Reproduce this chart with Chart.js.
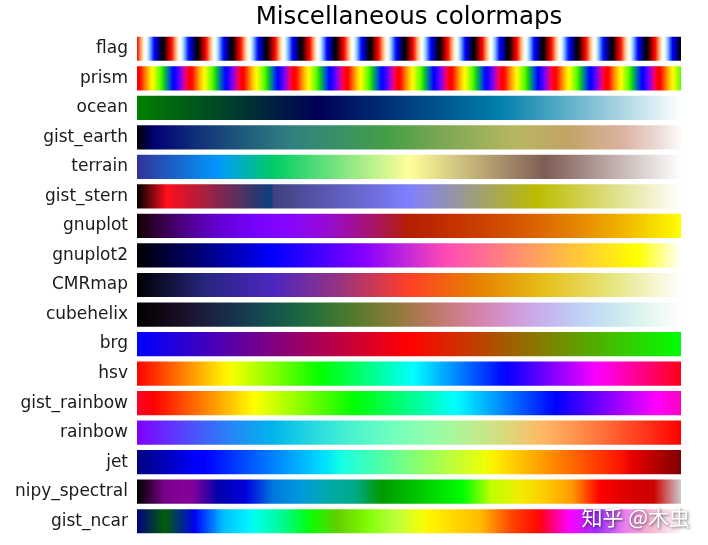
<!DOCTYPE html>
<html>
<head>
<meta charset="utf-8">
<script src="https://cdn.jsdelivr.net/npm/chart.js@4.4.0/dist/chart.umd.min.js"></script>
<style>
  html, body { margin: 0; padding: 0; background: #fff; }
</style>
</head>
<body>
<canvas id="cmapChart" width="708" height="545"></canvas>
<script>
// Colormap names, top to bottom
var cmapNames = ["flag", "prism", "ocean", "gist_earth", "terrain", "gist_stern",
    "gnuplot", "gnuplot2", "CMRmap", "cubehelix", "brg", "hsv", "gist_rainbow",
    "rainbow", "jet", "nipy_spectral", "gist_ncar"];
// every bar runs over the whole 0..1 range of its colormap
var cmapSpan = [1, 1, 1, 1, 1, 1, 1, 1, 1, 1, 1, 1, 1, 1, 1, 1, 1];
var titleText = "Miscellaneous colormaps";
var watermarkText = "知乎 @木虫";

// ---- colormap definitions (matplotlib style) ----

// segmented channel: list of [x, yLeft, yRight]
function segCh(pts, x) {
    for (var k = 0; k < pts.length - 1; k++) {
        if (x <= pts[k + 1][0]) {
            var a = pts[k], b = pts[k + 1];
            var t = (b[0] - a[0]) > 0 ? (x - a[0]) / (b[0] - a[0]) : 0;
            return a[2] + t * (b[1] - a[2]);
        }
    }
    return pts[pts.length - 1][1];
}
function segmented(d) {
    return function (x) { return [segCh(d.r, x), segCh(d.g, x), segCh(d.b, x)]; };
}
// list of [pos, r, g, b]
function listed(stops) {
    var d = { r: [], g: [], b: [] };
    stops.forEach(function (s) {
        d.r.push([s[0], s[1], s[1]]);
        d.g.push([s[0], s[2], s[2]]);
        d.b.push([s[0], s[3], s[3]]);
    });
    return segmented(d);
}

var PI = Math.PI;
var cmaps = {
    flag: function (x) {
        return [0.75 * Math.sin((x * 31.5 + 0.25) * PI) + 0.5,
                Math.sin(x * 31.5 * PI),
                0.75 * Math.sin((x * 31.5 - 0.25) * PI) + 0.5];
    },
    prism: function (x) {
        return [0.75 * Math.sin((x * 20.9 + 0.25) * PI) + 0.67,
                0.75 * Math.sin((x * 20.9 - 0.25) * PI) + 0.33,
                -1.1 * Math.sin((x * 20.9) * PI)];
    },
    ocean: function (x) { return [3 * x - 2, Math.abs((3 * x - 1) / 2), x]; },
    gist_earth: listed([
        [0.000, 0.00, 0.00, 0.00], [0.030, 0.00, 0.00, 0.45], [0.110, 0.06, 0.19, 0.47],
        [0.210, 0.13, 0.38, 0.49], [0.282, 0.19, 0.50, 0.50], [0.370, 0.22, 0.57, 0.40],
        [0.460, 0.27, 0.62, 0.28], [0.550, 0.47, 0.65, 0.32], [0.698, 0.72, 0.72, 0.38],
        [0.790, 0.76, 0.64, 0.40], [0.894, 0.86, 0.70, 0.63], [0.960, 0.93, 0.86, 0.84],
        [1.000, 0.99, 0.99, 0.98]]),
    terrain: listed([
        [0.00, 0.2, 0.2, 0.6], [0.15, 0.0, 0.6, 1.0], [0.25, 0.0, 0.8, 0.4],
        [0.50, 1.0, 1.0, 0.6], [0.75, 0.5, 0.36, 0.33], [1.00, 1.0, 1.0, 1.0]]),
    gist_stern: segmented({
        r: [[0, 0, 0], [0.0547, 1, 1], [0.250, 0.027, 0.250], [1, 1, 1]],
        g: [[0, 0, 0], [1, 1, 1]],
        b: [[0, 0, 0], [0.5, 1, 1], [0.735, 0, 0], [1, 1, 1]]
    }),
    gnuplot: function (x) { return [Math.sqrt(x), x * x * x, Math.sin(2 * PI * x)]; },
    gnuplot2: function (x) {
        var b = x < 0.25 ? 4 * x : (x < 0.92 ? -2 * x + 1.84 : x / 0.08 - 11.5);
        return [x / 0.32 - 0.78125, 2 * x - 0.84, b];
    },
    CMRmap: listed([
        [0.000, 0.00, 0.00, 0.00], [0.125, 0.15, 0.15, 0.50], [0.250, 0.30, 0.15, 0.75],
        [0.375, 0.60, 0.20, 0.50], [0.500, 1.00, 0.25, 0.15], [0.625, 0.90, 0.50, 0.00],
        [0.750, 0.90, 0.75, 0.10], [0.875, 0.90, 0.90, 0.50], [1.000, 1.00, 1.00, 1.00]]),
    cubehelix: function (x) {
        var a = x * (1 - x) / 2;
        var phi = 2 * PI * (0.5 / 3 - 1.5 * x);
        var c = Math.cos(phi), s = Math.sin(phi);
        return [x + a * (-0.14861 * c + 1.78277 * s),
                x + a * (-0.29227 * c - 0.90649 * s),
                x + a * (1.97294 * c)];
    },
    brg: listed([[0, 0, 0, 1], [0.5, 1, 0, 0], [1, 0, 1, 0]]),
    hsv: segmented({
        r: [[0, 1, 1], [0.158730, 1, 1], [0.174603, 0.96875, 0.96875], [0.333333, 0.03125, 0.03125],
            [0.349206, 0, 0], [0.666667, 0, 0], [0.682540, 0.03125, 0.03125],
            [0.841270, 0.96875, 0.96875], [0.857143, 1, 1], [1, 1, 1]],
        g: [[0, 0, 0], [0.158730, 0.9375, 0.9375], [0.174603, 1, 1], [0.507937, 1, 1],
            [0.666667, 0.0625, 0.0625], [0.682540, 0, 0], [1, 0, 0]],
        b: [[0, 0, 0], [0.333333, 0, 0], [0.349206, 0.0625, 0.0625], [0.507937, 1, 1],
            [0.841270, 1, 1], [0.857143, 0.9375, 0.9375], [1, 0.09375, 0.09375]]
    }),
    gist_rainbow: listed([
        [0.000, 1.00, 0.00, 0.16], [0.030, 1.00, 0.00, 0.00], [0.215, 1.00, 1.00, 0.00],
        [0.400, 0.00, 1.00, 0.00], [0.586, 0.00, 1.00, 1.00], [0.770, 0.00, 0.00, 1.00],
        [0.954, 1.00, 0.00, 1.00], [1.000, 1.00, 0.00, 0.75]]),
    rainbow: function (x) {
        return [Math.abs(2 * x - 0.5), Math.sin(x * PI), Math.cos(x * PI / 2)];
    },
    jet: segmented({
        r: [[0, 0, 0], [0.35, 0, 0], [0.66, 1, 1], [0.89, 1, 1], [1, 0.5, 0.5]],
        g: [[0, 0, 0], [0.125, 0, 0], [0.375, 1, 1], [0.64, 1, 1], [0.91, 0, 0], [1, 0, 0]],
        b: [[0, 0.5, 0.5], [0.11, 1, 1], [0.34, 1, 1], [0.65, 0, 0], [1, 0, 0]]
    }),
    nipy_spectral: listed([
        [0.00, 0.0, 0.0, 0.0], [0.05, 0.4667, 0.0, 0.5333], [0.10, 0.5333, 0.0, 0.6],
        [0.15, 0.0, 0.0, 0.6667], [0.20, 0.0, 0.0, 0.8667], [0.25, 0.0, 0.4667, 0.8667],
        [0.30, 0.0, 0.6, 0.8667], [0.35, 0.0, 0.6667, 0.6667], [0.40, 0.0, 0.6667, 0.5333],
        [0.45, 0.0, 0.6, 0.0], [0.50, 0.0, 0.7333, 0.0], [0.55, 0.0, 0.8667, 0.0],
        [0.60, 0.0, 1.0, 0.0], [0.65, 0.7333, 1.0, 0.0], [0.70, 0.9333, 0.9333, 0.0],
        [0.75, 1.0, 0.8, 0.0], [0.80, 1.0, 0.6, 0.0], [0.85, 1.0, 0.0, 0.0],
        [0.90, 0.8667, 0.0, 0.0], [0.95, 0.8, 0.0, 0.0], [1.00, 0.8, 0.8, 0.8]]),
    gist_ncar: segmented({
        r: [[0, 0, 0], [0.3098, 0, 0], [0.3725, 0.3993, 0.3993], [0.4235, 0.5003, 0.5003],
            [0.5333, 1, 1], [0.7922, 1, 1], [0.8471, 0.6218, 0.6218], [0.898, 0.9235, 0.9235],
            [1, 0.9961, 0.9961]],
        g: [[0, 0, 0], [0.051, 0.3722, 0.3722], [0.1059, 0, 0], [0.1569, 0.7202, 0.7202],
            [0.1608, 0.7537, 0.7537], [0.1647, 0.7752, 0.7752], [0.2157, 1, 1],
            [0.2588, 0.9804, 0.9804], [0.2706, 0.9804, 0.9804], [0.3176, 1, 1],
            [0.3686, 0.8081, 0.8081], [0.4275, 1, 1], [0.5216, 1, 1], [0.6314, 0.7292, 0.7292],
            [0.6863, 0.2796, 0.2796], [0.7451, 0, 0], [0.7922, 0, 0], [0.8431, 0.1753, 0.1753],
            [0.898, 0.5, 0.5], [1, 0.9725, 0.9725]],
        b: [[0, 0.502, 0.502], [0.051, 0.0222, 0.0222], [0.1098, 1, 1], [0.2039, 1, 1],
            [0.2627, 0.6145, 0.6145], [0.3216, 0, 0], [0.4157, 0, 0], [0.4745, 0.2342, 0.2342],
            [0.5333, 0, 0], [0.7373, 0, 0], [0.7922, 0.9738, 0.9738], [0.8, 1, 1],
            [0.8431, 1, 1], [0.898, 0.9341, 0.9341], [0.9412, 0.8, 0.8], [1, 0.9961, 0.9961]]
    })
};

function clip(v) { return Math.round(Math.max(0, Math.min(1, v)) * 255); }

var gradCache = {};
function cmapGradient(ctx, area, name) {
    var key = name + ":" + area.left + ":" + area.right;
    if (gradCache[key]) return gradCache[key];
    var fn = cmaps[name];
    var g = ctx.createLinearGradient(area.left, 0, area.right, 0);
    var N = 256;
    for (var i = 0; i < N; i++) {
        var x = i / (N - 1);
        var c = fn(x);
        g.addColorStop(x, "rgb(" + clip(c[0]) + "," + clip(c[1]) + "," + clip(c[2]) + ")");
    }
    gradCache[key] = g;
    return g;
}

// title centred over the bars, watermark in the lower right corner
var textPlugin = {
    id: "texts",
    afterDraw: function (chart) {
        var c = chart.ctx, area = chart.chartArea;
        c.save();
        c.font = '24.5px "DejaVu Sans"';
        c.fillStyle = "#000";
        c.textAlign = "center";
        c.textBaseline = "middle";
        c.fillText(titleText, (area.left + area.right) / 2, 18);

        c.font = '21px "Noto Sans CJK SC"';
        c.textAlign = "right";
        c.textBaseline = "alphabetic";
        c.shadowColor = "rgba(0,0,0,0.6)";
        c.shadowBlur = 3;
        c.shadowOffsetX = 1;
        c.shadowOffsetY = 1;
        c.fillStyle = "#ffffff";
        c.fillText(watermarkText, 690, 525);
        c.restore();
    }
};

(function () {
    var cmapObj = document.getElementById("cmapChart").getContext("2d");
    var cmapChart = new Chart(cmapObj, {
        type: "bar",
        data: {
            labels: cmapNames,
            datasets: [{
                data: cmapSpan,
                backgroundColor: function (ctx) {
                    var area = ctx.chart.chartArea;
                    if (!area) return "#888";
                    return cmapGradient(ctx.chart.ctx, area, cmapNames[ctx.dataIndex]);
                },
                borderWidth: 0,
                barPercentage: 0.82,
                categoryPercentage: 1.0
            }]
        },
        options: {
            indexAxis: "y",
            responsive: false,
            animation: false,
            layout: { padding: { left: 0, right: 27, top: 34, bottom: 9 } },
            plugins: {
                legend: { display: false },
                tooltip: { enabled: false },
                title: { display: false }
            },
            scales: {
                x: { type: "linear", min: 0, max: 1, display: false },
                y: {
                    grid: { display: false, drawTicks: false },
                    border: { display: false },
                    ticks: {
                        color: "#1a1a1a",
                        padding: 9,
                        font: { family: "DejaVu Sans", size: 17 }
                    },
                    afterFit: function (scale) {
                        scale.width = 137;
                        scale.paddingTop = 0;
                        scale.paddingBottom = 0;
                    }
                }
            }
        },
        plugins: [textPlugin]
    });
})();
</script>
</body>
</html>
